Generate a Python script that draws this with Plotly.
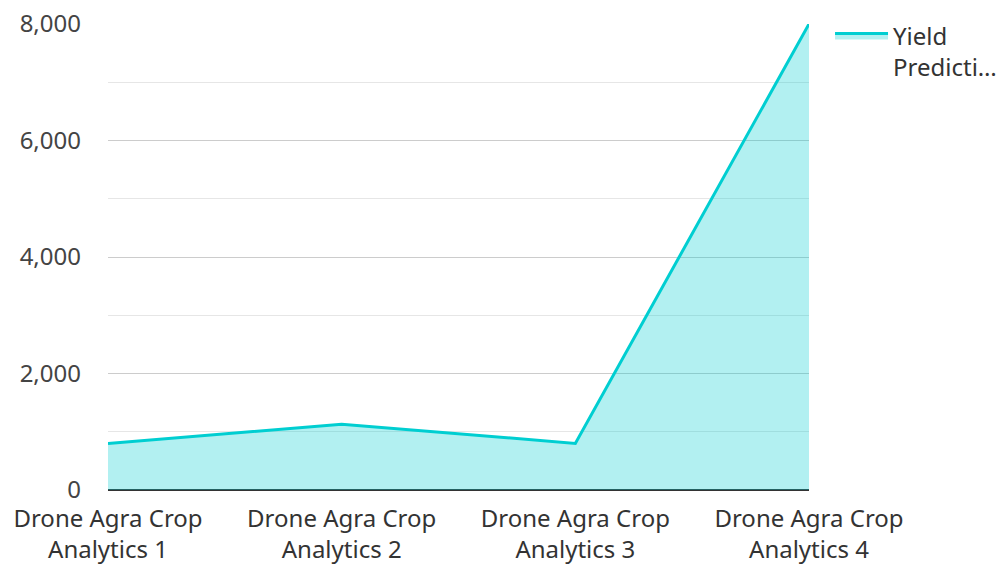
import plotly.graph_objects as go

categories = ["Drone Agra Crop<br>Analytics 1", "Drone Agra Crop<br>Analytics 2",
              "Drone Agra Crop<br>Analytics 3", "Drone Agra Crop<br>Analytics 4"]
values = [800, 1130, 800, 8000]
series_name = "Yield<br>Predicti…"
y_ticks = [0, 2000, 4000, 6000, 8000]
y_tick_labels = ["0", "2,000", "4,000", "6,000", "8,000"]

FONT = "Noto Sans"

fig = go.Figure()
fig.add_trace(go.Scatter(
    x=list(range(len(categories))), y=values, name=series_name,
    mode="lines", fill="tozeroy",
    line=dict(color="#00CED1", width=3),
    fillcolor="rgba(0,206,209,0.3)",
))

fig.update_layout(
    width=1001, height=564,
    margin=dict(l=108, r=192, t=24, b=74, autoexpand=False),
    paper_bgcolor="white", plot_bgcolor="white",
    font=dict(family=FONT, size=24, color="#444"),
    showlegend=True,
    legend=dict(x=1.03, y=1.023, xanchor="left", yanchor="top", valign="top",
                font=dict(size=24, color="#333"), itemwidth=53,
                tracegroupgap=0, bgcolor="rgba(0,0,0,0)"),
    xaxis=dict(
        tickmode="array", tickvals=list(range(len(categories))), ticktext=categories,
        range=[0, 3], showgrid=False, zeroline=False, showline=False,
        tickfont=dict(size=24, color="#333"), ticks="", ticklabelstandoff=12,
        automargin=False,
    ),
    yaxis=dict(
        range=[0, 8000], tickmode="array", tickvals=y_ticks, ticktext=y_tick_labels,
        showgrid=True, gridcolor="#cccccc", gridwidth=1,
        minor=dict(dtick=1000, showgrid=True, gridcolor="#e6e6e6", gridwidth=1, tick0=0),
        zeroline=True, zerolinecolor="#333333", zerolinewidth=2,
        showline=False, ticks="", ticklabelstandoff=26,
        tickfont=dict(size=24, color="#444"), automargin=False,
    ),
)

fig.write_html("out.html")
